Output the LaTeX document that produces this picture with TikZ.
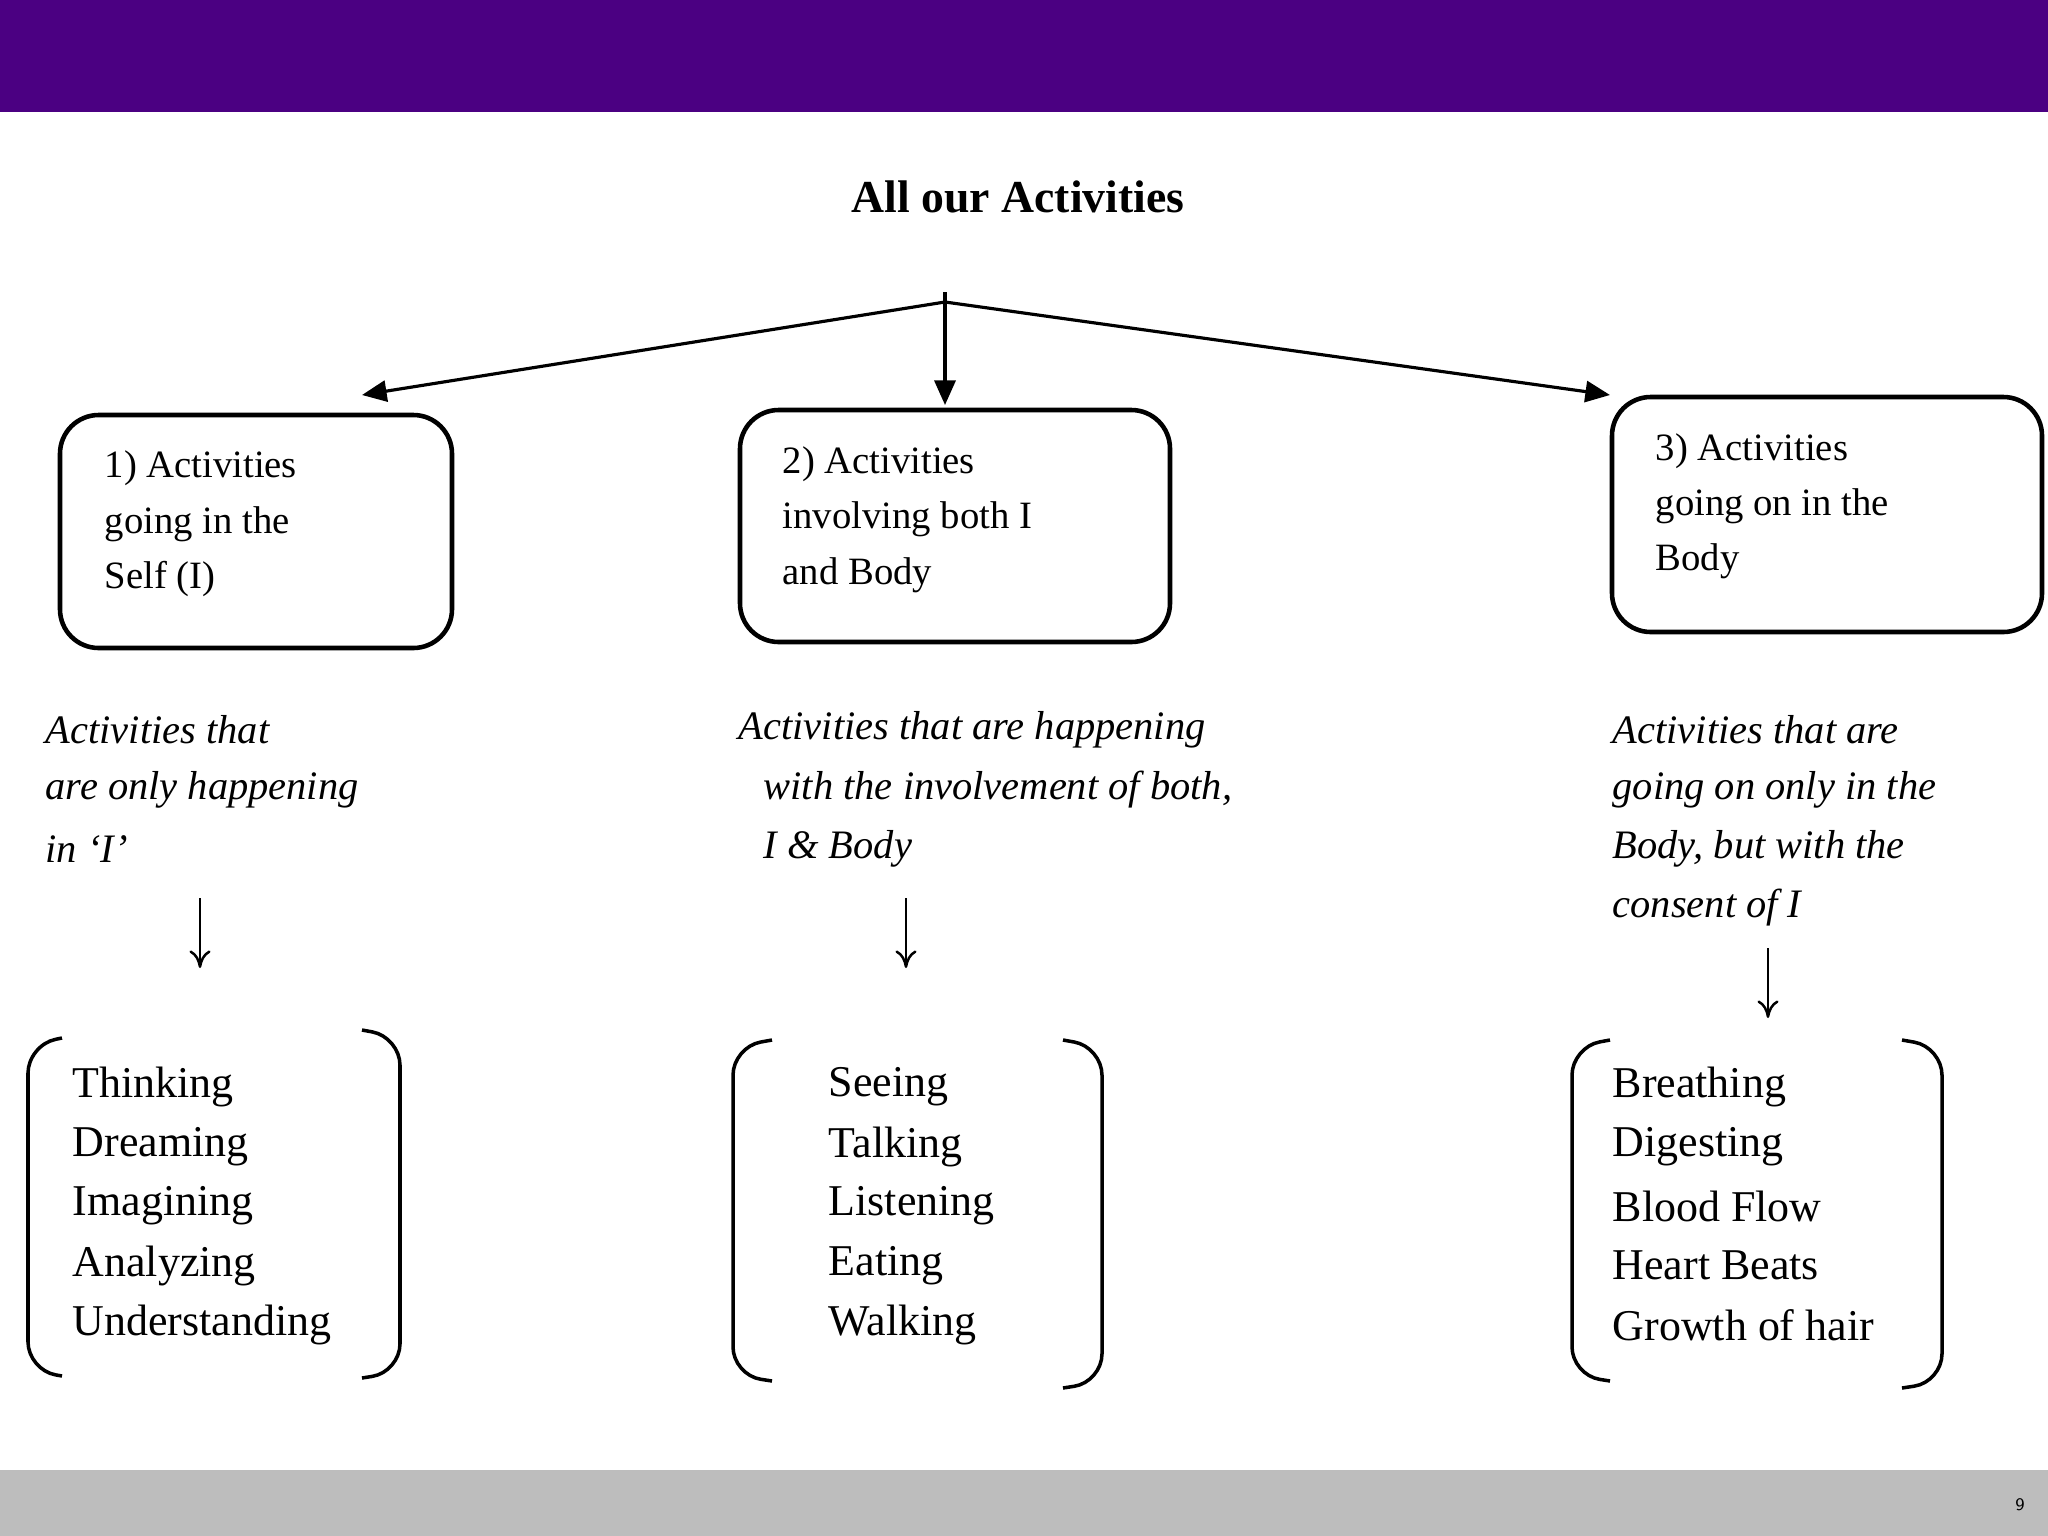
\documentclass[tikz,border=0pt]{standalone}
\usepackage{fontspec}
\setmainfont{Liberation Serif}
\usetikzlibrary{arrows.meta}
\definecolor{topbar}{HTML}{4B0082}
\definecolor{botbar}{HTML}{BDBDBD}
\begin{document}
\begin{tikzpicture}[x=0.01cm,y=-0.01cm,
  box/.style={draw,line width=1.3pt,rounded corners=11pt},
  bt/.style={anchor=west,inner sep=0,font=\fontsize{11}{12}\selectfont,align=left},
  it/.style={anchor=west,inner sep=0,font=\fontsize{11.5}{13}\selectfont\itshape},
  lt/.style={anchor=west,inner sep=0,font=\fontsize{12.5}{13}\selectfont},
  conn/.style={line width=0.9pt,-{Triangle[length=7pt,width=6pt]}},
  down/.style={line width=0.7pt,-{To[length=5pt,width=6pt]}},
  brk/.style={line width=1pt,rounded corners=8pt}]
\useasboundingbox (0,0) rectangle (2048,1536);
\fill[white] (0,0) rectangle (2048,1536);
\fill[topbar] (0,0) rectangle (2048,112);
\fill[botbar] (0,1470) rectangle (2048,1536);
\node[font=\sffamily\fontsize{5}{6}\selectfont] (pg) at (2020,1505) {9};
\node[font=\bfseries\fontsize{13}{15}\selectfont] (title) at (1018,197) {All our Activities};
% boxes
\draw[box] (60,415) rectangle (452,648);
\draw[box] (740,410) rectangle (1170,642);
\draw[box] (1612,397) rectangle (2042,632);
\node[bt] (b1a) at (104,468) {1) Activities};
\node[bt] (b1b) at (104,524) {going in the};
\node[bt] (b1c) at (104,579) {Self (I)};
\node[bt] (b2a) at (782,464) {2) Activities};
\node[bt] (b2b) at (782,519) {involving both I};
\node[bt] (b2c) at (782,575) {and Body};
\node[bt] (b3a) at (1655,451) {3) Activities};
\node[bt] (b3b) at (1655,506) {going on in the};
\node[bt] (b3c) at (1655,561) {Body};
% arrows
\coordinate (tick) at (945,292);
\coordinate (top) at (945,302);
\coordinate (e1) at (362,395);
\coordinate (e2) at (945,405);
\coordinate (e3) at (1610,395);
\draw[line width=0.9pt] (tick) -- (top);
\draw[conn] (top) -- (e1);
\draw[conn] (top) -- (e2);
\draw[conn] (top) -- (e3);
% italic
\node[it] (i1a) at (45,730) {Activities that};
\node[it] (i1b) at (45,790) {are only happening};
\node[it] (i1c) at (45,849) {in ‘I’};
\node[it] (i2a) at (738,730) {Activities that are happening};
\node[it] (i2b) at (763,790) {with the involvement of both,};
\node[it] (i2c) at (763,849) {I \& Body};
\node[it] (i3a) at (1612,730) {Activities that are};
\node[it] (i3b) at (1612,790) {going on only in the};
\node[it] (i3c) at (1612,849) {Body, but with the};
\node[it] (i3d) at (1612,908) {consent of I};
\coordinate (d1s) at (200,898); \coordinate (d1e) at (200,968);
\coordinate (d2s) at (906,898); \coordinate (d2e) at (906,968);
\coordinate (d3s) at (1768,948); \coordinate (d3e) at (1768,1018);
\draw[down] (d1s) -- (d1e);
\draw[down] (d2s) -- (d2e);
\draw[down] (d3s) -- (d3e);
% brackets
\draw[brk] (62,1038) -- (28,1045) -- (28,1370) -- (62,1376);
\draw[brk] (362,1030) -- (400,1037) -- (400,1372) -- (362,1378);
\draw[brk] (772,1040) -- (733,1047) -- (733,1375) -- (772,1381);
\draw[brk] (1063,1040) -- (1102,1047) -- (1102,1382) -- (1063,1388);
\draw[brk] (1610,1040) -- (1572,1047) -- (1572,1375) -- (1610,1381);
\draw[brk] (1902,1040) -- (1942,1047) -- (1942,1382) -- (1902,1388);
% lists
\foreach \t [count=\i] in {Thinking,Dreaming,Imagining,Analyzing,Understanding}
  \node[lt] (l1\i) at (72,{1087+59.5*(\i-1)}) {\t};
\foreach \t [count=\i] in {Seeing,Talking,Listening,Eating,Walking}
  \node[lt] (l2\i) at (828,{1087+59.5*(\i-1)}) {\t};
\foreach \t [count=\i] in {Breathing,Digesting,Blood Flow,Heart Beats,Growth of hair}
  \node[lt] (l3\i) at (1612,{1087+59.5*(\i-1)}) {\t};
\end{tikzpicture}
\end{document}
